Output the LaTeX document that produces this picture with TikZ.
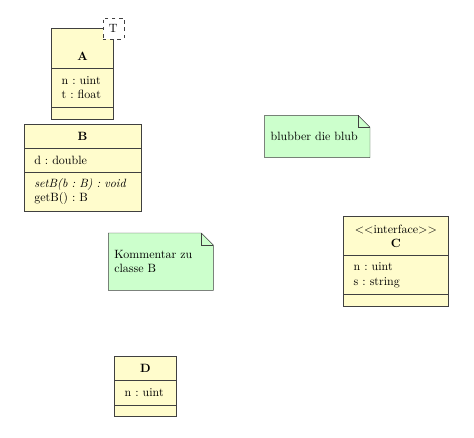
\documentclass[tikz,border=0pt]{standalone}
\usetikzlibrary{positioning,backgrounds}

\newcommand{\umlpx}{0.8333pt}

\tikzset{
  classpart/.style 2 args={draw=black!75, fill=yellow!20, outer sep=0pt, inner xsep=10*\umlpx, inner ysep=0pt,
    minimum width=#1*\umlpx, text width=(#1-20)*\umlpx, minimum height=#2*\umlpx, align=left},
  classtitle/.style={align=center, font=\bfseries},
  notetext/.style 2 args={outer sep=0pt, inner xsep=6*\umlpx, inner ysep=0pt, align=left,
    minimum width=#1*\umlpx, text width=(#1-12)*\umlpx, minimum height=#2*\umlpx},
  notebox/.style={draw=black!75, fill=green!20},
  tmplbox/.style={draw=black!75, dashed, fill=white, inner sep=0pt, minimum size=21*\umlpx}
}

\begin{document}
\frenchspacing
\begin{tikzpicture}[x=\umlpx, y=-\umlpx]
	\useasboundingbox (0,0) rectangle (474,438);

	% class A (template T)
	\node[classpart={61.6}{40}, anchor=north west] (A-title) at (51.7,28.3) {};
	\node[classpart={61.6}{39}, below=0pt of A-title] (A-attr) {n : uint\\t : float};
	\node[classpart={61.6}{11.7}, below=0pt of A-attr] (A-ops) {};
	\node[font=\bfseries] (A-name) at (82.5,56) {A};
	\node[tmplbox] (A-tmpl) at (A-title.north east) {T};

	% class B
	\node[classpart={116.7}{24}, classtitle, anchor=north west] (B-title) at (24.3,124.3) {B};
	\node[classpart={116.7}{24}, below=0pt of B-title] (B-attr) {d : double};
	\node[classpart={116.7}{39}, below=0pt of B-attr] (B-ops) {\textit{setB(b : B) : void}\\getB() : B};

	% class C
	\node[classpart={104.3}{39}, align=center, anchor=north west] (C-title) at (343.7,216.7) {<\kern0pt<interface>\kern0pt>\\\textbf{C}};
	\node[classpart={104.3}{39}, below=0pt of C-title] (C-attr) {n : uint\\s : string};
	\node[classpart={104.3}{11.6}, below=0pt of C-attr] (C-ops) {};

	% class D
	\node[classpart={61.3}{23.6}, classtitle, anchor=north west] (D-title) at (114.7,356.7) {D};
	\node[classpart={61.3}{25}, below=0pt of D-title] (D-attr) {n : uint};
	\node[classpart={61.3}{11.4}, below=0pt of D-attr] (D-ops) {};

	% notes
	\node[notetext={105.3}{42.4}, anchor=north west] (blub) at (264.7,115.3) {blubber die blub};
	\node[notetext={105}{57.3}, anchor=north west] (komm) at (108.3,233) {Kommentar zu\\classe B};

	\begin{scope}[on background layer]
		\foreach \n in {blub,komm} {
			\draw[notebox] (\n.north west) -- ([xshift=-10pt]\n.north east) -- ([yshift=-10pt]\n.north east)
				-- (\n.south east) -- (\n.south west) -- cycle;
			\draw[draw=black!75] ([xshift=-10pt]\n.north east) -- ([xshift=-10pt,yshift=-10pt]\n.north east)
				-- ([yshift=-10pt]\n.north east);
		}
	\end{scope}
\end{tikzpicture}
\end{document}
